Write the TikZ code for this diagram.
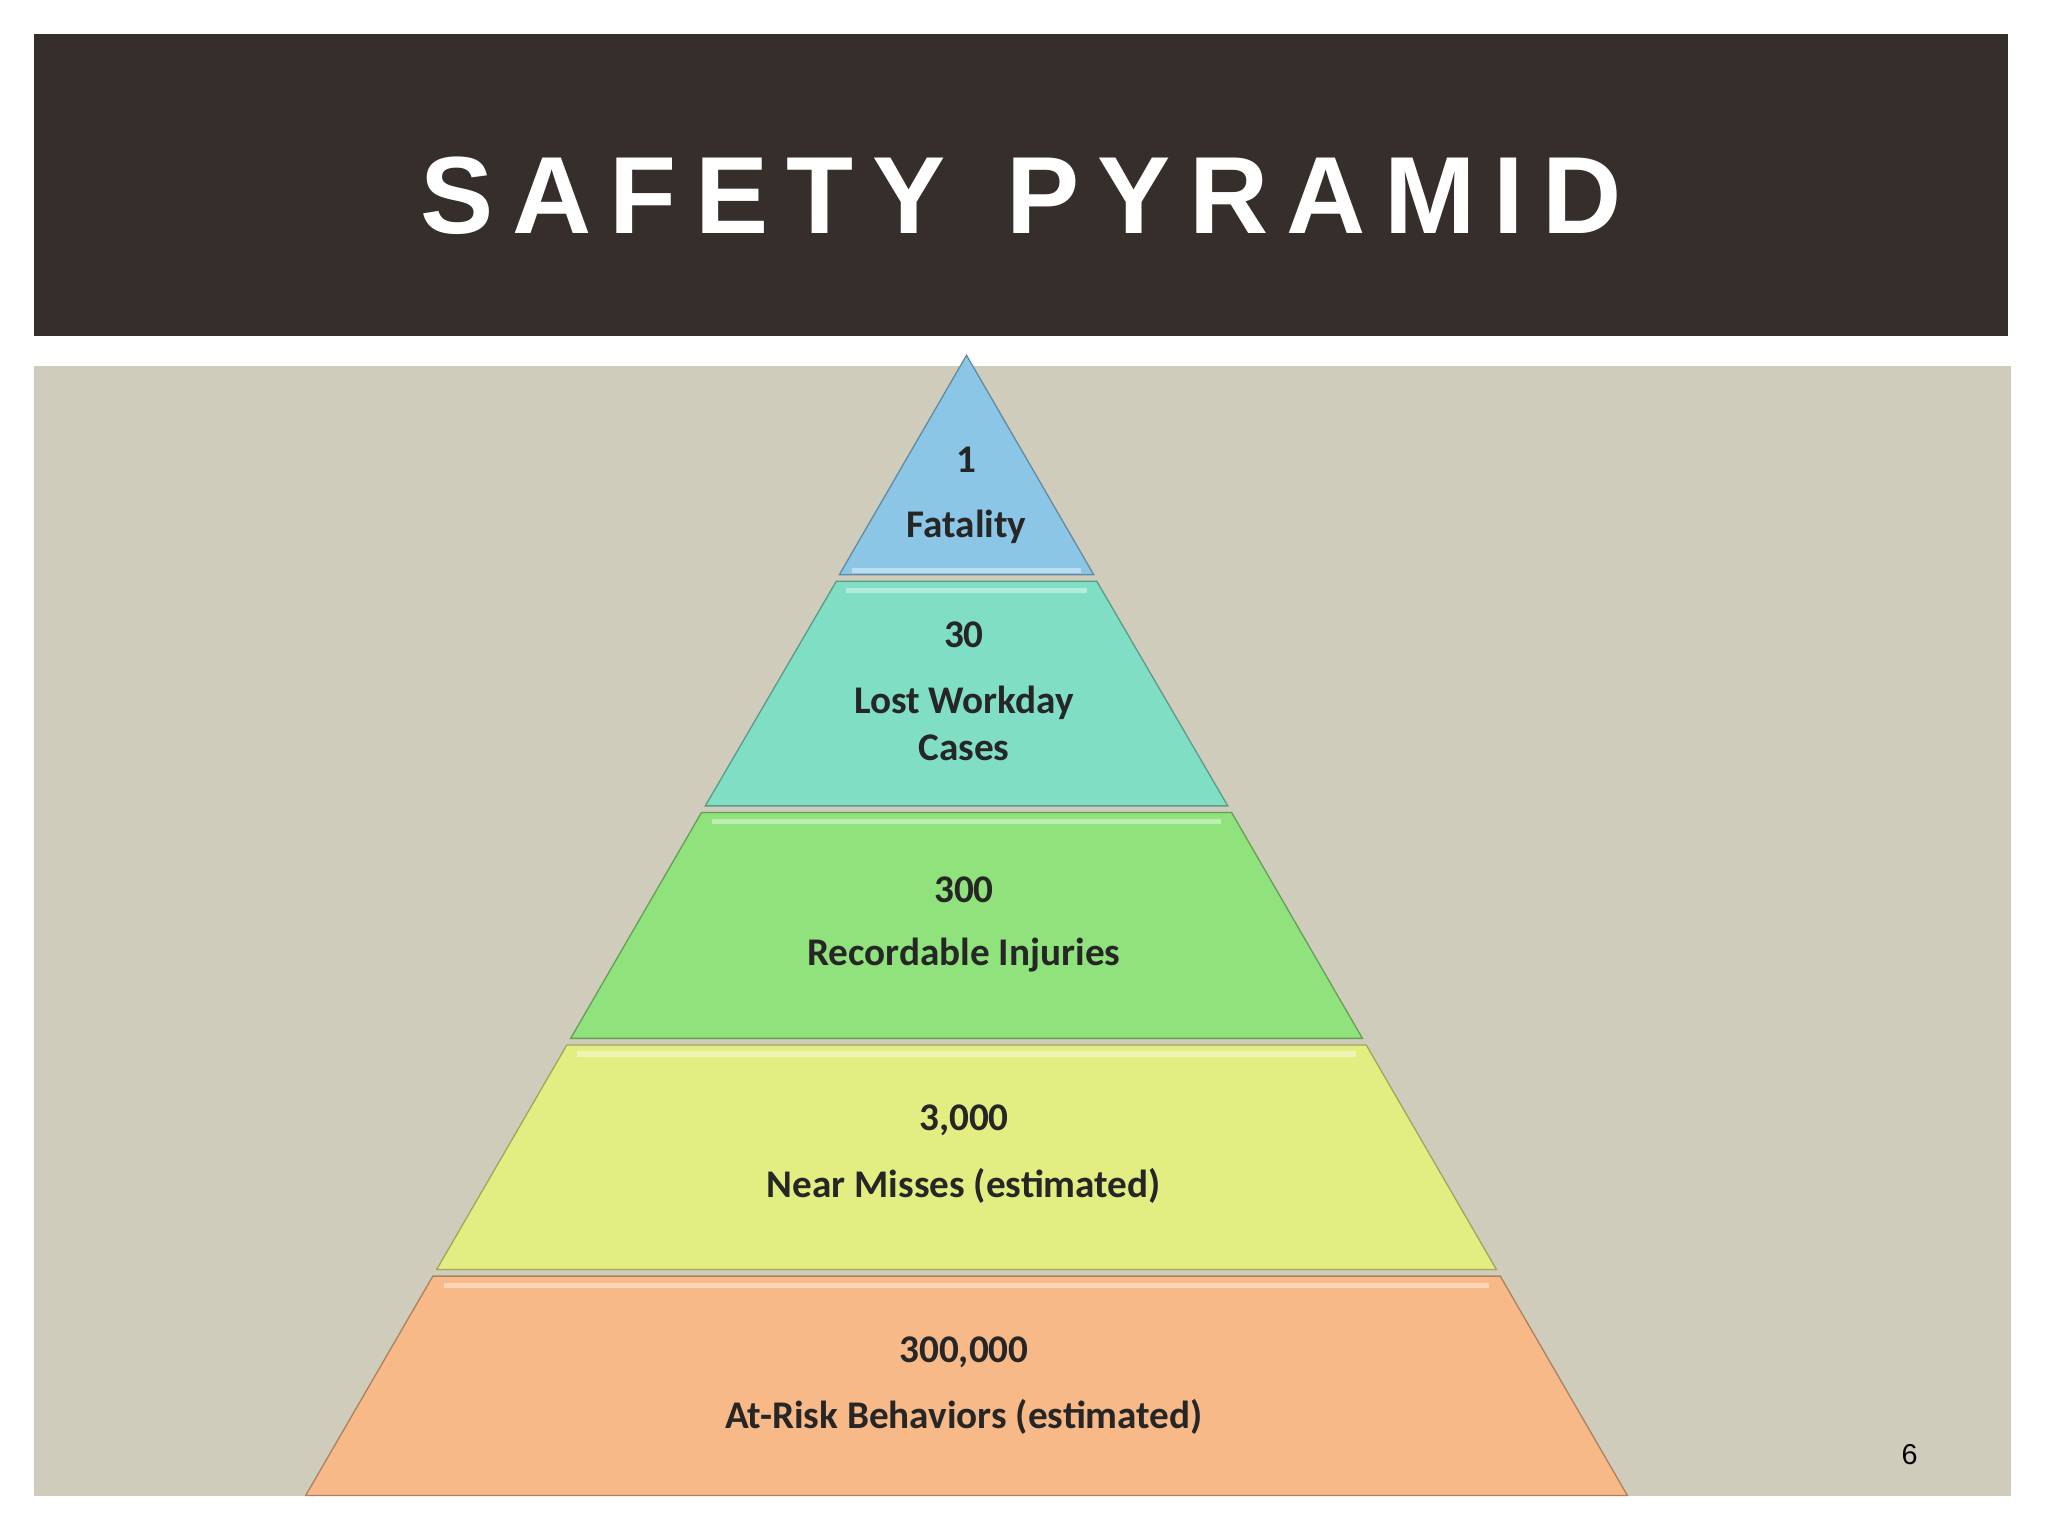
\documentclass[tikz,border=0pt]{standalone}
\usepackage{fontspec}
\setmainfont{Carlito}
\newfontfamily\headfont{Liberation Sans}
\begin{document}
\begin{tikzpicture}[x=1pt,y=-1pt,
  lbl/.style={font=\fontsize{30}{36}\selectfont\bfseries,text=black!85,align=center},
  layer/.style={draw=#1!70!black,line width=1pt,fill=#1}]
\useasboundingbox (0,0) rectangle (1568,1176);
\fill[white] (0,0) rectangle (1568,1176);
\definecolor{hdr}{HTML}{352E2B}
\definecolor{pan}{HTML}{D0CCBC}
\definecolor{c1}{HTML}{8CC6E6}
\definecolor{c2}{HTML}{80DEC4}
\definecolor{c3}{HTML}{90E27C}
\definecolor{c4}{HTML}{E2EE82}
\definecolor{c5}{HTML}{F7B987}
\fill[hdr] (26,26) rectangle (1537,257);
\node[text=white,font=\headfont\fontsize{84}{90}\selectfont\bfseries] (title) at (782,150) {S\,A\,F\,E\,T\,Y\;\;P\,Y\,R\,A\,M\,I\,D};
\fill[pan] (26,280) rectangle (1540,1145);
% layers
\filldraw[layer=c1] (740,272) -- (837.4,440) -- (642.6,440) -- cycle;
\filldraw[layer=c2] (640.3,445) -- (839.7,445) -- (940,617) -- (540,617) -- cycle;
\filldraw[layer=c3] (537.1,622) -- (942.9,622) -- (1043.1,795) -- (436.9,795) -- cycle;
\filldraw[layer=c4] (434,800) -- (1046,800) -- (1145.7,972) -- (334.3,972) -- cycle;
\filldraw[layer=c5] (331.4,977) -- (1148.6,977) -- (1246,1145) -- (234,1145) -- cycle;
% bevel highlights
\foreach \a/\b/\c/\d/\col in {
  652/437/828/437/c1,
  648/452/832/452/c2, 545/629/935/629/c3, 442/807/1038/807/c4, 340/984/1140/984/c5}{
  \draw[\col!60!white,line width=4pt] (\a,\b) -- (\c,\d);}
\node[lbl] (n1) at (740,352) {1};
\node[lbl] (t1) at (740,403) {Fatality};
\node[lbl] (n2) at (738,486) {30};
\node[lbl] (t2) at (738,554) {Lost Workday\\Cases};
\node[lbl] (n3) at (738,681) {300};
\node[lbl] (t3) at (738,731) {Recordable Injuries};
\node[lbl] (n4) at (738,858) {3,000};
\node[lbl] (t4) at (738,908) {Near Misses (estimated)};
\node[lbl] (n5) at (738,1035) {300,000};
\node[lbl] (t5) at (738,1085) {At-Risk Behaviors (estimated)};
\node[font=\headfont\fontsize{22}{24}\selectfont] (pg) at (1462,1114) {6};
\end{tikzpicture}
\end{document}
